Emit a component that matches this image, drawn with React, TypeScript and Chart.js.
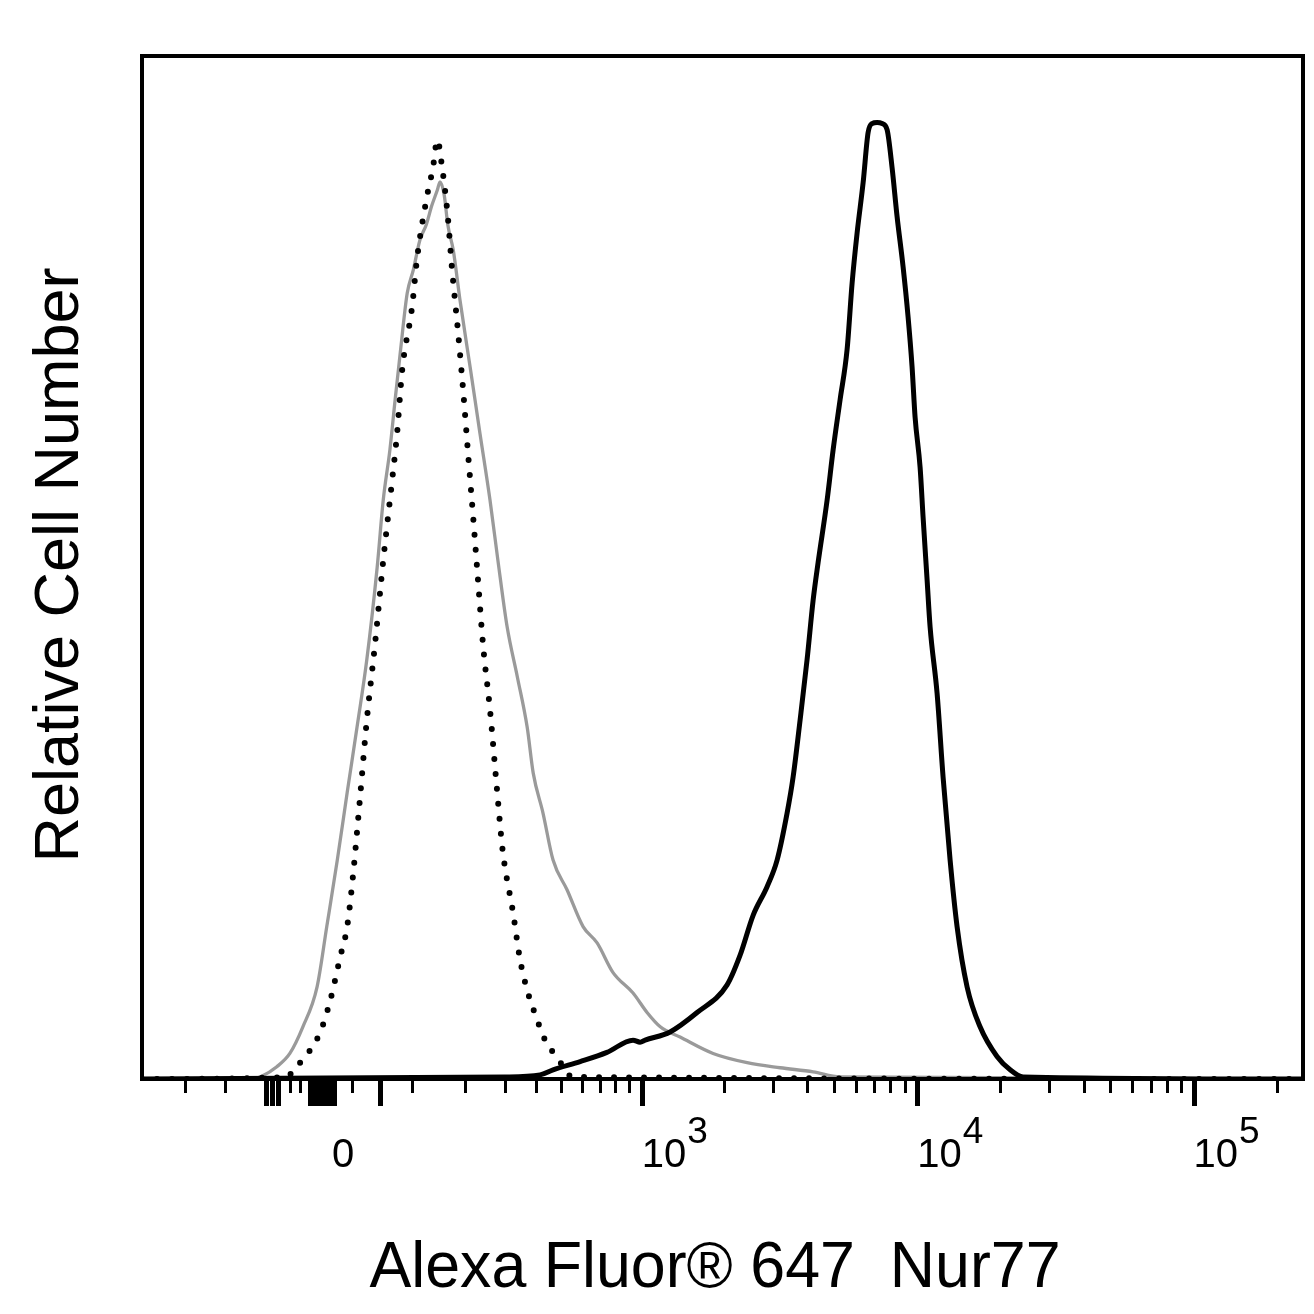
import React, { useEffect, useRef } from "react";
import { Chart, registerables } from "chart.js";

Chart.register(...registerables);

// Biexponential-like display transform (arcsinh with cofactor)
const COFACTOR = 170;
const T = (v: number) => Math.asinh(v / COFACTOR);

// Axis range in raw fluorescence units
const xMinRaw = -446;
const xMaxRaw = 249000;

// Isotype control (dotted)
const isotypeX = [-446, -84, -76, -61, -36, -21, -7, 3, 11, 21, 31, 43, 55, 68, 76, 84, 100, 108, 125, 136, 144, 153, 164, 172, 185, 196, 207, 218, 227, 242, 259, 277, 293, 324, 346, 369, 404, 434, 466, 504, 550, 249000];
const isotypeY = [0, 0.2, 0.9, 1.9, 4.5, 7.7, 11.9, 14.9, 19.7, 27.3, 35.1, 42.6, 50.7, 58.3, 63.1, 69.3, 75.5, 80.1, 86.2, 89.1, 91.8, 89.1, 84.3, 79.4, 72.9, 67.1, 60.8, 54.9, 50.0, 42.2, 36.1, 28.5, 22.4, 16.2, 11.6, 8.7, 5.8, 3.8, 2.6, 1.4, 0.2, 0];

// Unstimulated (gray)
const unstimX = [-446, -140, -127, -102, -81, -61, -40, -26, -11, 3, 17, 31, 46, 55, 65, 73, 81, 92, 102, 113, 124, 134, 144, 149, 157, 164, 175, 189, 211, 234, 259, 280, 306, 337, 369, 390, 426, 466, 527, 606, 684, 784, 929, 1046, 1169, 1381, 1821, 2421, 3189, 4199, 5258, 249000];
const unstimY = [0, 0.1, 0.3, 1.2, 2.5, 5.1, 9.0, 14.9, 21.4, 28.0, 34.4, 41.0, 50.0, 56.6, 61.5, 66.4, 71.0, 76.8, 79.1, 82.0, 83.5, 85.4, 86.9, 87.7, 86.4, 83.5, 81.0, 76.1, 69.6, 63.1, 56.6, 50.7, 44.2, 39.3, 34.4, 29.9, 26.0, 21.4, 18.5, 14.9, 13.3, 10.4, 8.4, 6.5, 5.1, 4.1, 2.5, 1.6, 1.1, 0.7, 0.2, 0];

// Stimulated, Nur77 (black)
const stimX = [-446, 300, 415, 466, 591, 744, 929, 986, 1029, 1270, 1593, 2048, 2283, 2545, 2860, 3109, 3380, 3553, 3767, 3993, 4199, 4378, 4719, 4961, 5258, 5574, 5812, 6059, 6370, 6640, 6865, 7157, 7461, 7779, 8109, 8456, 8889, 9267, 9581, 9824, 10243, 10503, 10858, 11133, 11801, 12407, 13153, 13940, 15156, 16886, 19448, 21692, 24174, 249000];
const stimY = [0, 0.2, 0.4, 0.9, 1.7, 2.6, 3.8, 3.6, 3.8, 4.6, 6.5, 9.2, 12.1, 16.0, 18.8, 21.4, 26.0, 29.5, 35.1, 41.0, 46.8, 50.5, 56.6, 61.5, 66.4, 71.3, 77.8, 82.7, 87.6, 92.5, 93.4, 93.5, 93.4, 92.8, 89.1, 84.3, 79.4, 74.5, 69.6, 64.7, 59.8, 54.9, 48.8, 44.2, 37.7, 29.5, 21.4, 14.9, 9.0, 5.1, 2.2, 0.9, 0.2, 0];

// Tick marks (raw units)
const longTicks = [-120, -110, -100, -50, -45, -40, -35, -30, -25, -20, -15, 50, 1000, 10000, 100000];
const shortTicks = [-300, -200, -80, -65, 10, 100, 200, 300, 400, 500, 600, 700, 800, 900, 2000, 3000, 4000, 5000, 6000, 7000, 8000, 9000, 20000, 30000, 40000, 50000, 60000, 70000, 80000, 90000, 200000];
const labelTicks = [0, 1000, 10000, 100000];
const labelExponents = ["", "3", "4", "5"];

const xTitle = "Alexa Fluor\u00AE 647  Nur77";
const yTitle = "Relative Cell Number";

const FONT = "'Liberation Sans', Arial, Helvetica, sans-serif";

const toPoints = (xs: number[], ys: number[]) => xs.map((v, i) => ({ x: T(v), y: ys[i] }));

const decorPlugin = {
  id: "decor",
  afterDatasetsDraw(chart: any) {
    const { ctx, chartArea: ca, scales } = chart;
    const xs = scales.x;
    ctx.save();
    // frame
    ctx.strokeStyle = "#000";
    ctx.lineWidth = 4;
    ctx.strokeRect(ca.left, ca.top, ca.right - ca.left, ca.bottom - ca.top);
    // ticks
    ctx.fillStyle = "#000";
    for (const v of shortTicks) {
      const px = Math.round(xs.getPixelForValue(T(v)));
      ctx.fillRect(px - 1, ca.bottom, 3, 14);
    }
    for (const v of longTicks) {
      const px = Math.round(xs.getPixelForValue(T(v)));
      ctx.fillRect(px - 2, ca.bottom, 5, 27);
    }
    // tick labels
    const baseY = ca.bottom + 88;
    labelTicks.forEach((v, i) => {
      const px = xs.getPixelForValue(T(v));
      const exp = labelExponents[i];
      ctx.font = `40px ${FONT}`;
      ctx.textBaseline = "alphabetic";
      if (!exp) {
        ctx.textAlign = "center";
        ctx.fillText(String(v), px - 2, baseY);
      } else {
        ctx.textAlign = "left";
        const left = px;
        ctx.fillText("10", left, baseY);
        const w = ctx.measureText("10").width;
        ctx.font = `37px ${FONT}`;
        ctx.fillText(exp, left + w + 1, baseY - 24);
      }
    });
    // x title
    ctx.font = `65px ${FONT}`;
    ctx.textAlign = "center";
    ctx.textBaseline = "alphabetic";
    ctx.save();
    ctx.translate(715, 1287);
    ctx.scale(0.965, 1);
    ctx.fillText(xTitle, 0, 0);
    ctx.restore();
    // y title
    ctx.save();
    ctx.translate(78, 565);
    ctx.rotate(-Math.PI / 2);
    ctx.font = `63px ${FONT}`;
    ctx.textAlign = "center";
    ctx.fillText(yTitle, 0, 0);
    ctx.restore();
    ctx.restore();
  },
};

export default function App() {
  const canvasRef = useRef<HTMLCanvasElement | null>(null);

  useEffect(() => {
    if (!canvasRef.current) return;
    const chart = new Chart(canvasRef.current, {
      type: "line",
      data: {
        datasets: [
          {
            label: "Nur77",
            data: toPoints(stimX, stimY),
            borderColor: "#000",
            borderWidth: 5,
            pointRadius: 0,
            cubicInterpolationMode: "monotone",
            fill: false,
            order: 1,
          },
          {
            label: "Isotype control",
            data: toPoints(isotypeX, isotypeY),
            borderColor: "#000",
            borderWidth: 6,
            borderDash: [0, 15],
            borderCapStyle: "round",
            pointRadius: 0,
            cubicInterpolationMode: "monotone",
            fill: false,
            order: 2,
          },
          {
            label: "Unstimulated",
            data: toPoints(unstimX, unstimY),
            borderColor: "#9a9a9a",
            borderWidth: 3.3,
            pointRadius: 0,
            cubicInterpolationMode: "monotone",
            fill: false,
            order: 3,
          },
        ],
      },
      options: {
        responsive: false,
        animation: false,
        devicePixelRatio: 1,
        layout: { padding: { left: 142, right: 11, top: 56, bottom: 235 } },
        plugins: { legend: { display: false }, tooltip: { enabled: false } },
        scales: {
          x: { type: "linear", min: T(xMinRaw), max: T(xMaxRaw), display: false },
          y: { type: "linear", min: 0, max: 100, display: false },
        },
      } as any,
      plugins: [decorPlugin],
    });
    return () => chart.destroy();
  }, []);

  return (
    <div style={{ position: "absolute", left: 0, top: 0, width: 1314, height: 1314, background: "#fff" }}>
      <canvas ref={canvasRef} width={1314} height={1314} style={{ display: "block" }} />
    </div>
  );
}
